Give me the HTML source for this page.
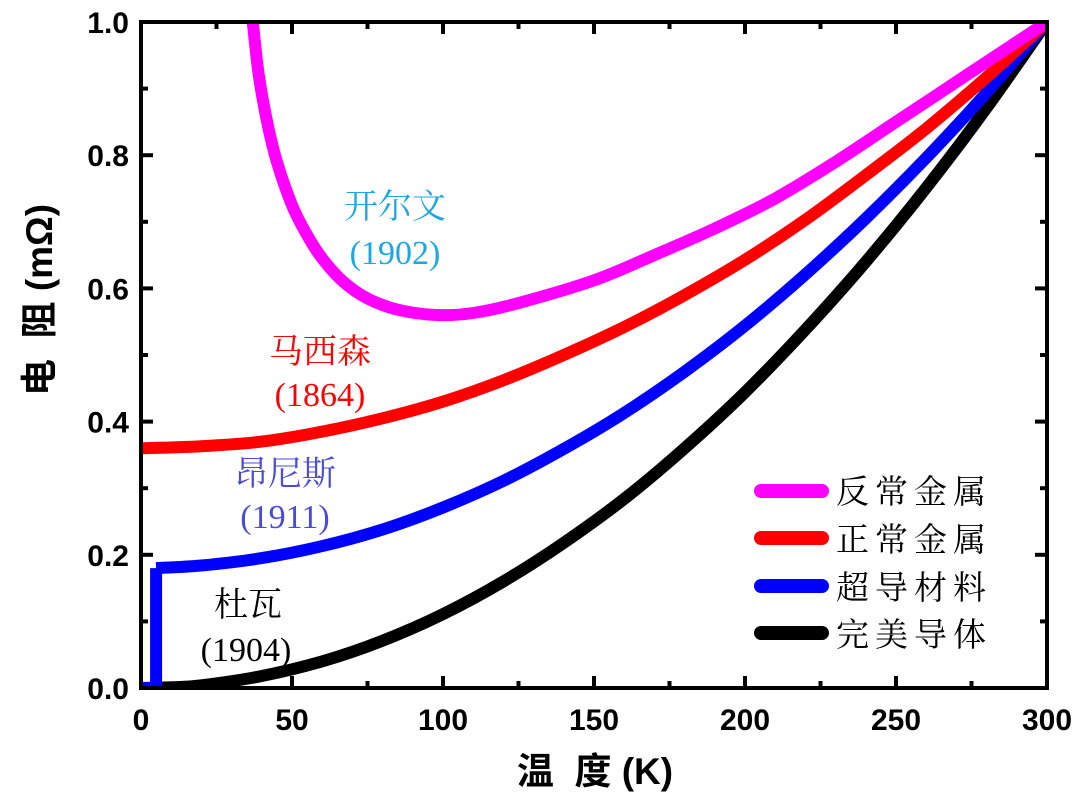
<!DOCTYPE html>
<html><head><meta charset="utf-8">
<style>
html,body{margin:0;padding:0;background:#fff;}
svg{display:block;}
.tick{font-family:"Liberation Sans",sans-serif;font-weight:bold;font-size:30px;fill:#000;}
.ann{font-family:"Liberation Serif","Noto Serif CJK SC",serif;font-size:34px;}
.leg{font-family:"Liberation Serif","Noto Serif CJK SC",serif;font-size:33px;letter-spacing:6px;fill:#000;}
.title{font-family:"Liberation Sans","Noto Sans CJK SC",sans-serif;font-weight:bold;font-size:37px;fill:#000;}
</style></head>
<body>
<svg id="chart" width="1080" height="799" viewBox="0 0 1080 799" xmlns="http://www.w3.org/2000/svg">
<g id="series"></g>
<g id="axes"></g>
<text class="title" x="595" y="784" text-anchor="middle" xml:space="preserve">温  度 (K)</text>
<text class="title" transform="translate(52,300) rotate(-90)" text-anchor="middle" xml:space="preserve">电  阻 (mΩ)</text>
<g>
<text class="ann" x="395" y="218" text-anchor="middle" fill="#1ba6e4">开尔文</text>
<text class="ann" x="395" y="264" text-anchor="middle" fill="#1ba6e4">(1902)</text>
<text class="ann" x="320" y="363" text-anchor="middle" fill="#f00">马西森</text>
<text class="ann" x="320" y="406" text-anchor="middle" fill="#f00">(1864)</text>
<text class="ann" x="285" y="485" text-anchor="middle" fill="#4b4bd8">昂尼斯</text>
<text class="ann" x="285" y="528" text-anchor="middle" fill="#4b4bd8">(1911)</text>
<text class="ann" x="248" y="616" text-anchor="middle" fill="#000">杜瓦</text>
<text class="ann" x="246" y="661" text-anchor="middle" fill="#000">(1904)</text>
</g>
<g>
<line x1="761" y1="491" x2="822" y2="491" stroke="#ff00ff" stroke-width="14" stroke-linecap="round"/>
<text class="leg" x="836" y="503">反常金属</text>
<line x1="761" y1="538" x2="822" y2="538" stroke="#ff0000" stroke-width="14" stroke-linecap="round"/>
<text class="leg" x="836" y="551">正常金属</text>
<line x1="761" y1="586" x2="822" y2="586" stroke="#0000ff" stroke-width="14" stroke-linecap="round"/>
<text class="leg" x="836" y="599">超导材料</text>
<line x1="761" y1="633" x2="822" y2="633" stroke="#000" stroke-width="14" stroke-linecap="round"/>
<text class="leg" x="836" y="646">完美导体</text>
</g>
</svg>
<script>
const magentaT=[36,37,39,42,45,50,55,60,67,75,85,98,110,125,150,170,190,210,230,250,270,290,300];
const magentaR=[1.04,1.0,0.92,0.845,0.79,0.725,0.68,0.645,0.61,0.585,0.568,0.56,0.563,0.578,0.612,0.65,0.69,0.735,0.79,0.85,0.91,0.97,1.0];
const redT=[0,20,40,60,80,100,120,140,160,180,200,220,240,260,280,300];
const redR=[0.36,0.363,0.37,0.385,0.405,0.43,0.462,0.5,0.542,0.59,0.643,0.703,0.77,0.84,0.917,1.0];
const blueT=[0,5,5,20,40,60,80,100,120,140,160,180,200,220,240,260,280,300];
const blueR=[0,0,0.18,0.184,0.195,0.213,0.238,0.271,0.311,0.359,0.413,0.475,0.544,0.621,0.705,0.796,0.894,1.0];
const blackT=[0,10,20,40,60,80,100,120,140,160,180,200,220,240,260,280,300];
const blackR=[0,0.001,0.004,0.018,0.04,0.071,0.111,0.16,0.218,0.284,0.36,0.444,0.538,0.64,0.751,0.871,1.0];
const xTicks=[0,50,100,150,200,250,300];
const yTicks=[0,0.2,0.4,0.6,0.8,1.0];
const yTickLabels=["0.0","0.2","0.4","0.6","0.8","1.0"];

const X0=141,X1=1047,Y0=688,Y1=22;
function xs(t){return X0+(t-0)/300*(X1-X0);}
function ys(r){return Y0-(r-0)/1*(Y0-Y1);}
const NS="http://www.w3.org/2000/svg";
const series=document.getElementById('series');
const axes=document.getElementById('axes');
function smoothPath(P){
  let d='M'+P[0][0].toFixed(1)+','+P[0][1].toFixed(1);
  for(let i=0;i<P.length-1;i++){
    const p0=P[Math.max(0,i-1)],p1=P[i],p2=P[i+1],p3=P[Math.min(P.length-1,i+2)];
    if(Math.abs(p1[0]-p2[0])<0.01){d+=' L'+p2[0].toFixed(1)+','+p2[1].toFixed(1);continue;}
    const c1=[p1[0]+(p2[0]-p0[0])/6,p1[1]+(p2[1]-p0[1])/6];
    const c2=[p2[0]-(p3[0]-p1[0])/6,p2[1]-(p3[1]-p1[1])/6];
    d+=' C'+c1[0].toFixed(1)+','+c1[1].toFixed(1)+' '+c2[0].toFixed(1)+','+c2[1].toFixed(1)+' '+p2[0].toFixed(1)+','+p2[1].toFixed(1);
  }
  return d;
}
function drawLine(T,R,color,name,smooth){
  const P=T.map((t,i)=>[xs(t),ys(R[i])]);
  const p=document.createElementNS(NS,'path');
  p.setAttribute('d',smooth?smoothPath(P):'M'+P.map(q=>q[0].toFixed(1)+','+q[1].toFixed(1)).join(' L'));
  p.setAttribute('fill','none');p.setAttribute('stroke',color);p.setAttribute('stroke-width','12');
  p.setAttribute('stroke-linejoin','round');
  
  
  series.appendChild(p);
}
const clip=document.createElementNS(NS,'clipPath');clip.id='pc';
const cr=document.createElementNS(NS,'rect');cr.setAttribute('x',X0);cr.setAttribute('y',Y1);cr.setAttribute('width',X1-X0);cr.setAttribute('height',Y0-Y1);
clip.appendChild(cr);document.getElementById('chart').appendChild(clip);
series.setAttribute('clip-path','url(#pc)');
drawLine(blackT,blackR,'#000000','perfect-conductor-line',true);
drawLine(blueT.slice(0,3),blueR.slice(0,3),'#0000ff','superconductor-step',false);
drawLine(blueT.slice(2),blueR.slice(2),'#0000ff','superconductor-line',true);
drawLine(redT,redR,'#ff0000','normal-metal-line',true);
drawLine(magentaT,magentaR,'#ff00ff','anomalous-metal-line',true);

const frame=document.createElementNS(NS,'rect');
frame.setAttribute('x',X0);frame.setAttribute('y',Y1);frame.setAttribute('width',X1-X0);frame.setAttribute('height',Y0-Y1);
frame.setAttribute('fill','none');frame.setAttribute('stroke','#000');frame.setAttribute('stroke-width','4');


axes.appendChild(frame);
function tick(x1,y1,x2,y2){
  const l=document.createElementNS(NS,'line');
  l.setAttribute('x1',x1);l.setAttribute('y1',y1);l.setAttribute('x2',x2);l.setAttribute('y2',y2);
  l.setAttribute('stroke','#000');l.setAttribute('stroke-width','4');
  
  
  axes.appendChild(l);
}
xTicks.forEach((t,i)=>{
  const x=xs(t);
  tick(x,Y0,x,Y0-12);tick(x,Y1,x,Y1+12);
  if(i<xTicks.length-1){const m=xs(t+25);tick(m,Y0,m,Y0-7);tick(m,Y1,m,Y1+7);}
  const tx=document.createElementNS(NS,'text');
  tx.setAttribute('x',x);tx.setAttribute('y',Y0+42);tx.setAttribute('text-anchor','middle');tx.setAttribute('class','tick');
  tx.textContent=String(t);
  
  
  axes.appendChild(tx);
});
yTicks.forEach((r,i)=>{
  const y=ys(r);
  tick(X0,y,X0+12,y);tick(X1,y,X1-12,y);
  if(i<yTicks.length-1){const m=ys(r+0.1);tick(X0,m,X0+7,m);tick(X1,m,X1-7,m);}
  const tx=document.createElementNS(NS,'text');
  tx.setAttribute('x',X0-12);tx.setAttribute('y',y+11);tx.setAttribute('text-anchor','end');tx.setAttribute('class','tick');
  tx.textContent=yTickLabels[i];
  
  
  axes.appendChild(tx);
});
</script>
</body></html>
